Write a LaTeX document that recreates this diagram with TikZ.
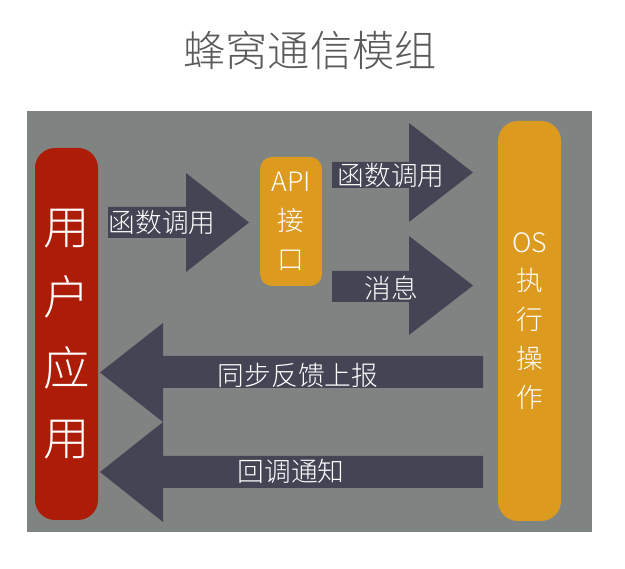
\documentclass[tikz,border=0pt]{standalone}
\usepackage{fontspec}
\usepackage{xcolor}
\setmainfont{Noto Sans CJK SC Light}
\usetikzlibrary{positioning}
\definecolor{panelgray}{HTML}{7F8382}
\definecolor{arrowdark}{HTML}{434554}
\definecolor{userred}{HTML}{AC1C06}
\definecolor{osorange}{HTML}{DC9A1E}
\definecolor{titlegray}{HTML}{5A5A5A}
\tikzset{every picture/.style={x=0.025cm,y=-0.025cm},
  box/.style={rectangle, text=white, align=center, inner sep=0pt},
  blockarrow/.style={fill=arrowdark},
  lbl/.style={text=white, inner sep=0pt, font=\fontsize{19}{22}\selectfont}}

\begin{document}
\begin{tikzpicture}
        \useasboundingbox[fill=white] (0,0) rectangle (625,569);
        \fill[panelgray] (27,111) rectangle (592,532);

        \node[text=titlegray, font=\fontsize{30}{36}\selectfont] (title) at (310,50) {蜂窝通信模组};

        \node[box, fill=userred, rounded corners=0.5cm, minimum width=63*0.025cm, minimum height=372*0.025cm,
          font=\fontsize{33}{50}\selectfont] (user) at (66.5,334) {用\\户\\应\\用};
        \node[box, fill=osorange, rounded corners=0.3cm, minimum width=62*0.025cm, minimum height=129*0.025cm,
          font=\fontsize{19}{27.7}\selectfont] (api) at (291,221.5) {API\\接\\口};
        \node[box, fill=osorange, rounded corners=0.5cm, minimum width=63*0.025cm, minimum height=400*0.025cm,
          font=\fontsize{19}{27.7}\selectfont] (os) at (529.5,321) {OS\\执\\行\\操\\作};

        % tail/base/tip/shaft top/shaft bottom/head top/head bottom/tip y
        \foreach \tl/\bs/\tp/\st/\sb/\ht/\hb/\ty in {
          108/186/249/207/238/173/272/222.5,
          332/409/473/162/188/123/222/172.5,
          332/409/473/271/302/236/335/285.5,
          483/163/100/356/388/323/422/372.5,
          483/163/100/456/488/422/522/472}
        \fill[blockarrow] (\tl,\st) -- (\bs,\st) -- (\bs,\ht) -- (\tp,\ty) -- (\bs,\hb) -- (\bs,\sb) -- (\tl,\sb) -- cycle;

        \node[lbl] (callA) at (162,222) {函数调用};
        \node[lbl] (callB) at (391,175) {函数调用};
        \node[lbl] (msg) at (391,288) {消息};
        \node[lbl] (sync) at (298,375) {同步反馈上报};
        \node[lbl] (cb) at (291,471) {回调通知};
      \end{tikzpicture}
\end{document}
